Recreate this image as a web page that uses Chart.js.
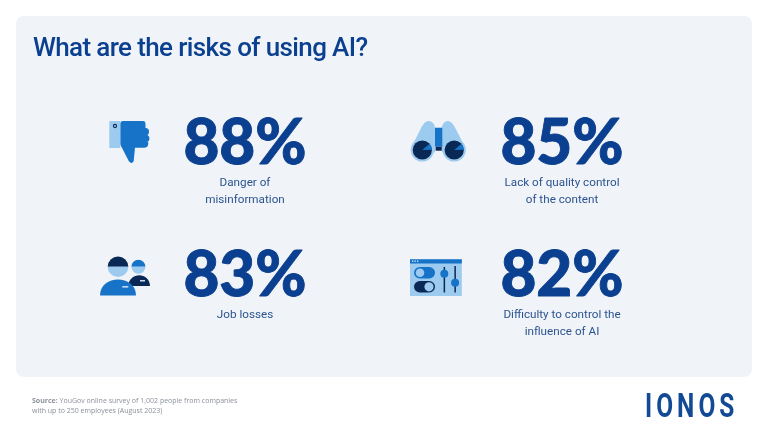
<!DOCTYPE html>
<html><head><meta charset="utf-8">
<style>html,body{margin:0;padding:0;background:#fff;overflow:hidden}#w{position:relative;width:768px;height:432px}canvas{display:block}</style>
<script src="https://cdn.jsdelivr.net/npm/chart.js@4/dist/chart.umd.js"></script>
</head><body><div id="w"><canvas id="c" width="768" height="432"></canvas></div>
<script>
const titleText = "What are the risks of using AI?";
const columns = ["left", "right"];
const rows = ["top", "bottom"];
const risks = [["Danger of", "misinformation"], ["Lack of quality control", "of the content"], ["Job losses"], ["Difficulty to control the", "influence of AI"]];
const values = [88, 85, 83, 82];
const cellCols = ["left", "right", "left", "right"];
const cellRows = ["top", "top", "bottom", "bottom"];
const sourceBold = "Source:";
const sourceLines = ["YouGov online survey of 1,002 people from companies", "with up to 250 employees (August 2023)"];
const logoText = "IONOS";

const NAVY = "#0b3f8f", DARK = "#0a2856", BLUE = "#1673c8", LIGHT = "#9ccbef", PANEL = "#f0f4f8";

function rr(g, x, y, w, h, r) { g.beginPath(); g.roundRect(x, y, w, h, r); }
function disc(g, x, y, r, c) { g.fillStyle = c; g.beginPath(); g.arc(x, y, r, 0, 7); g.fill(); }
function half(g, x, y, r, c, top) { g.fillStyle = c; g.beginPath(); g.arc(x, y, r, Math.PI, 0, !top); g.closePath(); g.fill(); }

function iconThumb(g) {
  g.fillStyle = LIGHT; g.fillRect(109.3, 121, 11, 27);
  g.strokeStyle = DARK; g.lineWidth = 1.1; g.beginPath(); g.arc(115, 126, 1.6, 0, 7); g.stroke();
  g.fillStyle = BLUE; g.beginPath();
  g.moveTo(123, 121); g.lineTo(143, 121); g.quadraticCurveTo(145.5, 121, 145.5, 124);
  g.lineTo(145.5, 128); g.quadraticCurveTo(149, 128, 149, 131.5); g.quadraticCurveTo(149, 134.5, 147.5, 135);
  g.quadraticCurveTo(149.5, 136, 149.5, 138.5); g.quadraticCurveTo(149.5, 141, 147.5, 141.5);
  g.quadraticCurveTo(149, 142.5, 148, 145); g.quadraticCurveTo(147.5, 147.7, 144, 147.7);
  g.lineTo(135, 147.7); g.lineTo(133.7, 161); g.quadraticCurveTo(132, 164.5, 129, 161.5);
  g.lineTo(121, 146); g.quadraticCurveTo(120.4, 145, 120.4, 143); g.lineTo(120.4, 124);
  g.quadraticCurveTo(120.4, 121, 123, 121); g.closePath(); g.fill();
}
function iconBinoculars(g) {
  g.fillStyle = LIGHT;
  g.beginPath(); g.moveTo(411.6, 147); g.lineTo(421.8, 126.5); g.quadraticCurveTo(428.5, 116.5, 434.5, 125); g.quadraticCurveTo(435, 126, 435, 130); g.lineTo(435, 152); g.lineTo(422, 158); g.closePath(); g.fill();
  g.beginPath(); g.moveTo(465, 147); g.lineTo(454.5, 126.5); g.quadraticCurveTo(447.7, 116.5, 442.4, 125); g.quadraticCurveTo(442, 126, 442, 130); g.lineTo(442, 152); g.lineTo(454, 158); g.closePath(); g.fill();
  disc(g, 422.3, 150, 11.6, LIGHT); disc(g, 454.2, 150, 11.6, LIGHT);
  g.fillStyle = BLUE; g.fillRect(435, 127.7, 7.3, 19);
  g.fillStyle = DARK; g.fillRect(435.6, 146.7, 6.2, 4);
  [[422.3, 150], [454.2, 150]].forEach(p => {
    disc(g, p[0], p[1], 9.6, DARK);
    g.fillStyle = BLUE; g.beginPath(); g.moveTo(p[0], p[1]); g.arc(p[0], p[1], 9.6, -0.7, -0.02); g.closePath(); g.fill();
  });
}
function iconPeople(g) {
  half(g, 118, 266.8, 10.3, DARK, true); half(g, 118, 266.8, 10.3, LIGHT, false);
  half(g, 138.4, 266.8, 7, BLUE, true); half(g, 138.4, 266.8, 7, LIGHT, false);
  g.fillStyle = DARK; g.beginPath(); g.moveTo(128.3, 286); g.bezierCurveTo(129, 271.5, 149.5, 271.5, 150, 286); g.closePath(); g.fill();
  g.fillStyle = BLUE; g.beginPath(); g.moveTo(100, 295.5); g.bezierCurveTo(100, 274, 136, 274, 136, 295.5); g.closePath(); g.fill();
  g.fillStyle = "#c9dcef"; g.fillRect(122.3, 286, 6, 1.6); g.fillRect(140, 280, 5, 1.5);
}
function iconControls(g) {
  g.fillStyle = LIGHT; g.fillRect(410, 259.3, 51.8, 36.7);
  g.fillStyle = BLUE; g.fillRect(410, 259.3, 51.8, 4.2);
  g.fillStyle = "#e8f1fa"; [412, 414.5, 417].forEach(x => g.fillRect(x, 260.5, 1.3, 1.3));
  g.fillStyle = BLUE; rr(g, 414, 267, 21, 11.5, 5.75); g.fill();
  disc(g, 420, 272.7, 4.3, LIGHT);
  g.fillStyle = DARK; rr(g, 414, 281, 21, 11.5, 5.75); g.fill();
  disc(g, 429, 286.8, 4.6, LIGHT);
  g.fillStyle = DARK; g.fillRect(443.6, 267, 1.5, 25.5); g.fillRect(454.4, 266, 1.5, 26.5);
  disc(g, 444.3, 273.7, 4, BLUE); disc(g, 455.1, 282.7, 4, BLUE);
}
const icons = [iconThumb, iconBinoculars, iconPeople, iconControls];

const infographic = {
  id: "infographic",
  beforeDraw(chart) {
    const g = chart.ctx;
    g.save();
    g.fillStyle = "#fff"; g.fillRect(0, 0, 768, 432);
    g.fillStyle = PANEL; rr(g, 16, 16, 736, 361, 8); g.fill();
    g.textBaseline = "alphabetic"; g.textAlign = "left";
    g.fillStyle = NAVY; g.font = "500 26px Roboto"; g.letterSpacing = "-0.62px";
    g.fillText(titleText, 33, 56);
    g.letterSpacing = "0px";
    icons.forEach(fn => fn(g));
    g.fillStyle = "#8b909a"; g.font = "bold 7px 'Open Sans'";
    g.fillText(sourceBold, 32, 402.6);
    const bw = g.measureText(sourceBold + " ").width;
    g.font = "7px 'Open Sans'";
    g.fillText(sourceLines[0], 32 + bw, 402.6);
    g.fillText(sourceLines[1], 32, 412.8);
    g.fillStyle = "#134a96"; g.font = "bold 34px 'Roboto'";
    g.save(); g.translate(645, 416.8); g.scale(0.72, 1); g.letterSpacing = "5.6px"; g.fillText(logoText, 0, 0); g.restore();
    g.restore();
  },
  afterDatasetsDraw(chart) {
    const g = chart.ctx, els = chart.getDatasetMeta(0).data;
    g.save(); g.textAlign = "center"; g.textBaseline = "alphabetic"; g.lineJoin = "round";
    els.forEach((el, i) => {
      g.fillStyle = NAVY; g.strokeStyle = NAVY; g.lineWidth = 0.9; g.font = "900 62px Lato";
      g.fillText(values[i] + "%", el.x, el.y + 22.5);
      g.strokeText(values[i] + "%", el.x, el.y + 22.5);
      g.fillStyle = "#2c5390"; g.font = "11.7px Roboto";
      risks[i].forEach((t, k) => g.fillText(t, el.x, el.y + 45 + 17 * k));
    });
    g.restore();
  }
};

new Chart(document.getElementById("c"), {
  type: "scatter",
  data: { datasets: [{ data: values.map((v, i) => ({ x: cellCols[i], y: cellRows[i], v })), pointRadius: 0 }] },
  options: {
    responsive: false, animation: false, events: [],
    layout: { padding: { left: 86.5, right: 47.5, top: 75, bottom: 93 } },
    plugins: { legend: { display: false }, tooltip: { enabled: false } },
    scales: {
      x: { type: "category", labels: columns, offset: true, display: false },
      y: { type: "category", labels: rows, offset: true, display: false }
    }
  },
  plugins: [infographic]
});
</script></body></html>
